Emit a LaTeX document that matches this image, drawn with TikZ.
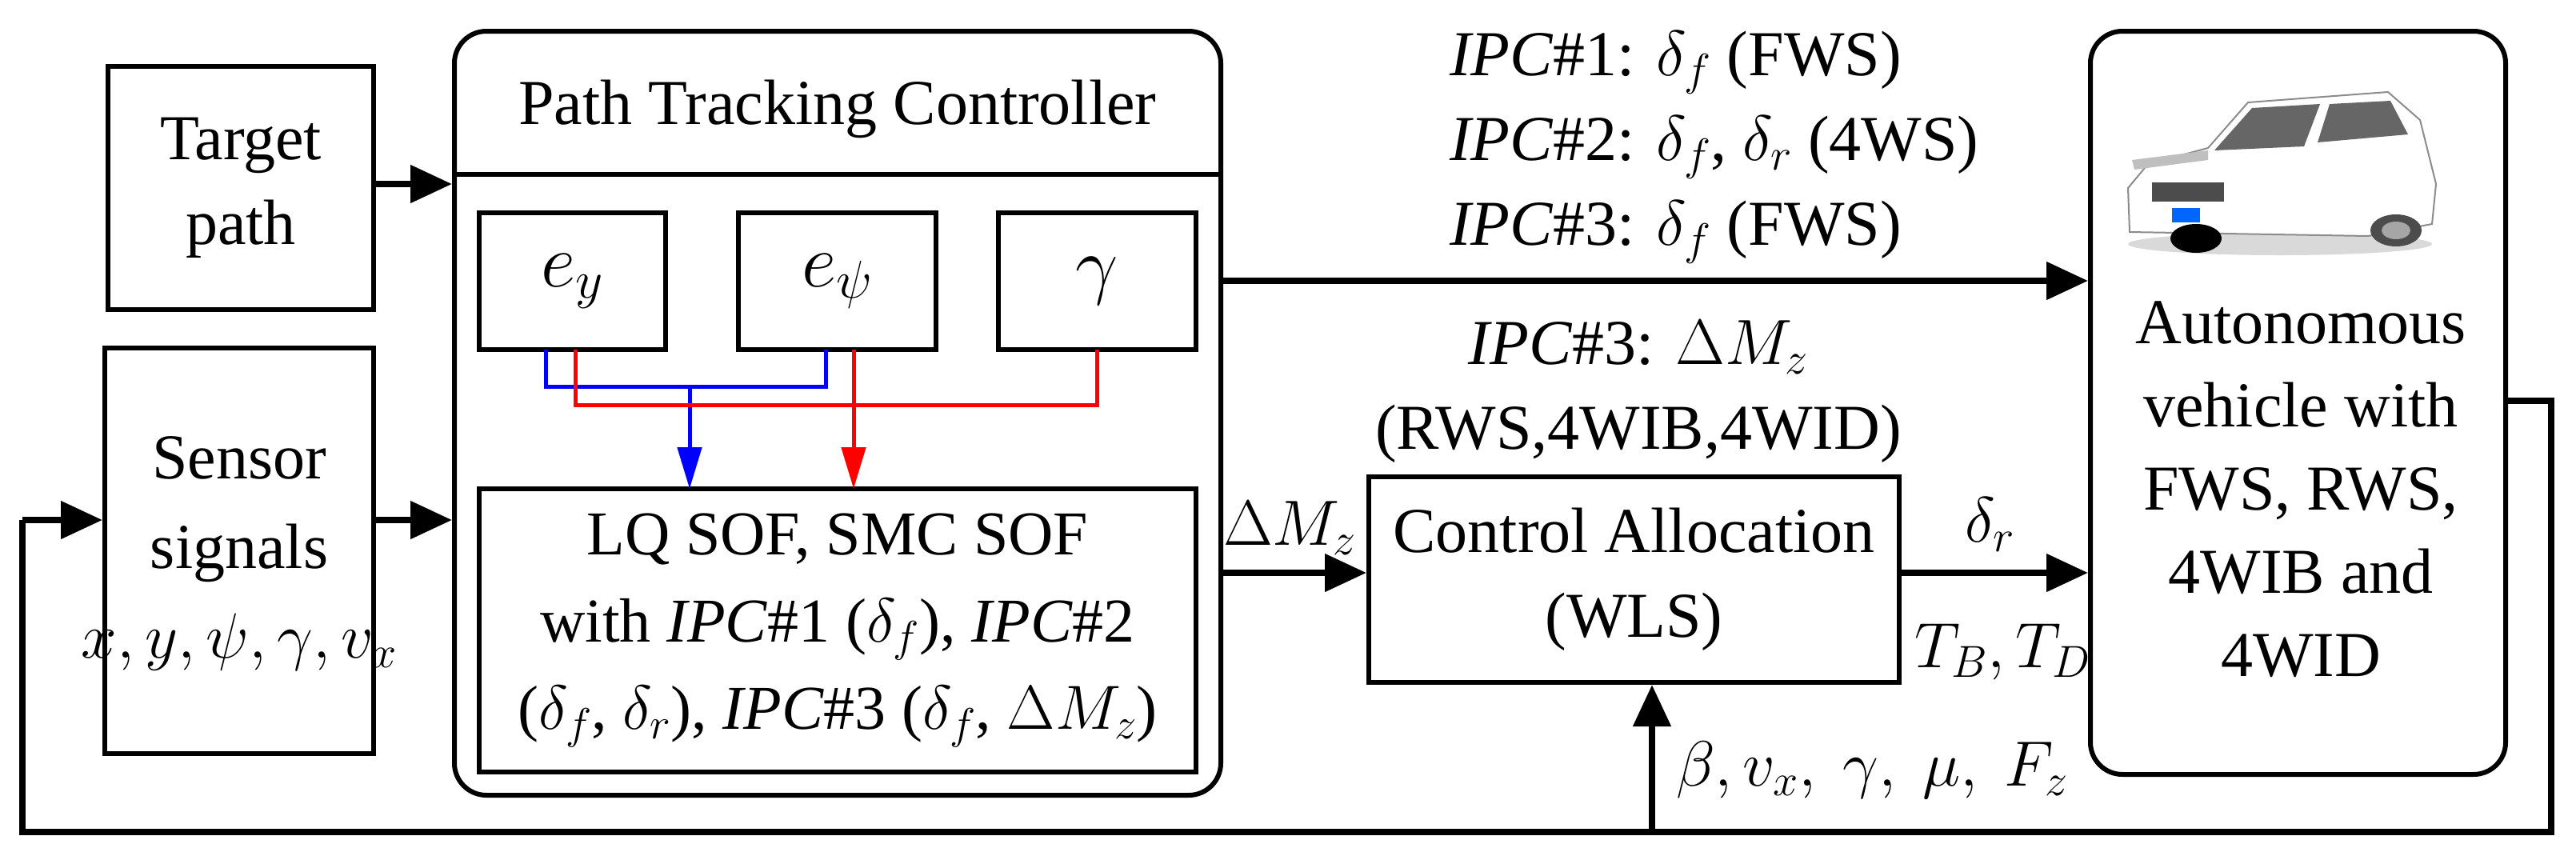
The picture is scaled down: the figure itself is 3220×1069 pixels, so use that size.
\RequirePackage{fix-cm}
\documentclass[tikz,border=0pt]{standalone}
\usepackage{fontspec}
\setmainfont{Liberation Serif}
\usetikzlibrary{arrows.meta}
\begin{document}
\begin{tikzpicture}[x=1pt,y=-1pt,
  box/.style={draw,line width=6pt,inner sep=0pt},
  txt/.style={align=center,inner sep=0pt,font=\rmfamily\fontsize{80}{106}\selectfont},
  arr/.style={line width=8pt,-{Triangle[length=52pt,width=46pt]}},
  carr/.style={line width=5pt,-{Triangle[length=52pt,width=30pt]}},
  ln/.style={line width=8pt}]
\useasboundingbox (0,0) rectangle (3220,1069);
\fill[white] (0,0) rectangle (3220,1069);
% boxes
\node[box,minimum width=332pt,minimum height=304pt] (tp) at (301,235) {};
\node[box,minimum width=336pt,minimum height=507pt] (ss) at (299,688) {};
\node[box,rounded corners=40pt,minimum width=958pt,minimum height=955pt] (ptc) at (1047,516.5) {};
\node[box,minimum width=233pt,minimum height=171pt] (ey) at (715.5,351.5) {};
\node[box,minimum width=247pt,minimum height=171pt] (ep) at (1046.5,351.5) {};
\node[box,minimum width=247pt,minimum height=171pt] (ga) at (1371.5,351.5) {};
\node[box,minimum width=896pt,minimum height=354pt] (lq) at (1047,788) {};
\node[box,minimum width=663pt,minimum height=257pt] (ca) at (2042.5,724.5) {};
\node[box,rounded corners=40pt,minimum width=519pt,minimum height=929pt] (veh) at (2872.5,503.5) {};
\draw[line width=6pt] (ptc.west |- 0,218) -- (ptc.east |- 0,218);
% texts
\node[txt] (tpt) at (tp.center) {Target\\path};
\node[txt,font=\rmfamily\fontsize{80}{112}\selectfont] (sst) at (299,692) {Sensor\\signals\\$x,y,\psi,\gamma,v_x$};
\node[txt] (ptct) at (1047,136) {Path Tracking Controller};
\node[txt,font=\fontsize{95}{100}\selectfont] (eyt) at (ey.center) {$e_y$};
\node[txt,font=\fontsize{95}{100}\selectfont] (ept) at (ep.center) {$e_\psi$};
\node[txt,font=\fontsize{95}{100}\selectfont] (gat) at (ga.center) {$\gamma$};
\node[txt,font=\rmfamily\fontsize{78}{109}\selectfont] (lqt) at (lq.center) {LQ SOF, SMC SOF\\with \textit{IPC}\#1 ($\delta_f$), \textit{IPC}\#2\\($\delta_f$, $\delta_r$), \textit{IPC}\#3 ($\delta_f$, $\Delta M_z$)};
\node[txt] (cat) at (ca.center) {Control Allocation\\(WLS)};
\node[txt,font=\rmfamily\fontsize{80}{104}\selectfont] (veht) at (2876,612) {Autonomous\\vehicle with\\FWS, RWS,\\4WIB and\\4WID};
\node[txt,align=left,anchor=west] (ipc) at (1812,184) {\textit{IPC}\#1: $\delta_f$ (FWS)\\\textit{IPC}\#2: $\delta_f$, $\delta_r$ (4WS)\\\textit{IPC}\#3: $\delta_f$ (FWS)};
\node[txt] (ipc3) at (2048,490) {\textit{IPC}\#3: $\Delta M_z$\\(RWS,4WIB,4WID)};
\node[txt] (dmz) at (1612,660) {$\Delta M_z$};
\node[txt] (dr) at (2487,656) {$\delta_r$};
\node[txt] (tbd) at (2503,815) {$T_B,T_D$};
\node[txt,anchor=west] (fb) at (2095,962) {$\beta, v_x,\ \gamma,\ \mu,\ F_z$};
% car
\begin{scope}
\fill[black!15] (2850,305) ellipse (190pt and 14pt);
\draw[black!45,line width=2pt,fill=white] (2662,290) -- (2660,235) -- (2685,205) -- (2760,185) -- (2810,128) -- (2985,115) -- (3025,150) -- (3045,230) -- (3040,280) -- (2960,295) -- cycle;
\fill[black!60] (2815,135) -- (2768,188) -- (2880,183) -- (2900,130) -- cycle;
\fill[black!60] (2912,130) -- (2897,178) -- (3010,168) -- (2988,126) -- cycle;
\fill[black!70] (2690,228) rectangle (2780,252);
\fill[black!25] (2665,200) -- (2760,188) -- (2760,200) -- (2668,212) -- cycle;
\fill[blue!60!cyan] (2715,260) rectangle (2750,278);
\fill[black] (2745,298) ellipse (32pt and 18pt);
\fill[black!70] (2995,288) ellipse (32pt and 20pt);
\fill[black!35] (2995,288) ellipse (18pt and 11pt);
\end{scope}
% connectors
\draw[arr] (tp.east |- 0,230) -- (ptc.west |- 0,230);
\draw[arr] (ss.east |- 0,650) -- (ptc.west |- 0,650);
\draw[arr] (ptc.east |- 0,351) -- (veh.west |- 0,351);
\draw[arr] (ptc.east |- 0,716) -- (ca.west |- 0,716);
\draw[arr] (ca.east |- 0,716) -- (veh.west |- 0,716);
\coordinate (r1) at (3189,501);
\coordinate (r2) at (3189,1040);
\coordinate (l1) at (28,1040);
\coordinate (l2) at (28,650);
\coordinate (m1) at (2065,1040);
\draw[ln,line join=miter] (veh.east |- 0,501) -- (r1) -- (r2) -- (l1) -- (l2);
\draw[arr] (l2) -- (ss.west |- 0,650);
\draw[arr] (m1) -- (ca.south -| m1);
\draw[blue,line width=5pt] (682,437) -- (682,483) -- (1032,483) -- (1032,437);
\draw[blue,carr] (862,483) -- (862,611);
\draw[red,line width=5pt] (719,437) -- (719,506) -- (1371,506) -- (1371,437);
\draw[red,carr] (1067,437) -- (1067,611);
\end{tikzpicture}
\end{document}
